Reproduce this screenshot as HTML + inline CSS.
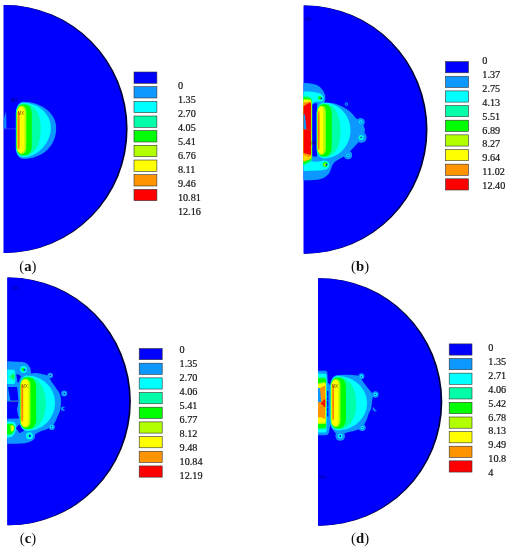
<!DOCTYPE html>
<html lang="en"><head><meta charset="utf-8"><title>Figure</title>
<style>
html,body{margin:0;padding:0;background:#fff;}
body{width:510px;height:550px;overflow:hidden;font-family:"Liberation Serif",serif;}
svg{display:block;font-family:"Liberation Serif",serif;}
</style></head><body>
<svg width="510" height="550" viewBox="0 0 510 550">
<defs><linearGradient id="og" x1="0" y1="0" x2="0" y2="1"><stop offset="0" stop-color="#FFC000"/><stop offset="0.07" stop-color="#FF8A00"/><stop offset="0.5" stop-color="#FF7800"/><stop offset="0.93" stop-color="#FF8A00"/><stop offset="1" stop-color="#FFC000"/></linearGradient><filter id="b" x="-5%" y="-5%" width="110%" height="110%"><feGaussianBlur stdDeviation="0.5"/></filter><filter id="b2" x="-2%" y="-2%" width="104%" height="104%"><feGaussianBlur stdDeviation="0.3"/></filter></defs>
<rect width="510" height="550" fill="#fff"/>
<g filter="url(#b2)"><path d="M4.0,5.099999999999994 L5.2,5.099999999999994 A122.4,123.9 0 0 1 5.2,252.9 L4.0,252.9Z" fill="#000038"/>
<path d="M3.5,5.099999999999994 A122.4,123.9 0 0 1 3.5,252.9Z" fill="#0000FF"/></g>
<g filter="url(#b)">
<path d="M23.20,101.80 C41.42,101.80 56.20,113.54 56.20,128.00 C56.20,144.94 43.66,158.80 23.20,158.80 C19.06,158.80 15.70,154.10 15.70,148.30 L15.70,113.80 C15.70,107.18 19.06,101.80 23.20,101.80Z" fill="#0C98FF"/>
<path d="M23.00,102.70 C38.40,102.70 50.90,114.03 50.90,128.00 C50.90,142.65 37.51,157.30 23.00,157.30 C19.14,157.30 16.00,152.91 16.00,147.50 L16.00,113.90 C16.00,107.72 19.14,102.70 23.00,102.70Z" fill="#00FFFF"/>
<path d="M22.75,103.50 C33.94,103.50 40.80,113.19 40.80,129.00 C40.80,145.80 33.94,156.10 22.75,156.10 C19.16,156.10 16.25,152.02 16.25,147.00 L16.25,113.90 C16.25,108.16 19.16,103.50 22.75,103.50Z" fill="#00FFA8"/>
<path d="M22.10,104.50 L25.30,104.50 A6.50,9.10 0 0 1 31.80,113.60 L31.80,146.20 A6.50,9.10 0 0 1 25.30,155.30 L22.10,155.30 A5.60,8.40 0 0 1 16.50,146.90 L16.50,113.46 A5.60,8.96 0 0 1 22.10,104.50Z" fill="#00FF00"/>
<path d="M21.40,105.80 L22.10,105.80 A4.20,5.88 0 0 1 26.30,111.68 L26.30,148.02 A4.20,5.88 0 0 1 22.10,153.90 L21.40,153.90 A4.60,6.90 0 0 1 16.80,147.00 L16.80,113.16 A4.60,7.36 0 0 1 21.40,105.80Z" fill="#B2FF00"/>
<path d="M20.70,106.70 L20.90,106.70 A3.40,4.76 0 0 1 24.30,111.46 L24.30,148.04 A3.40,4.76 0 0 1 20.90,152.80 L20.70,152.80 A3.60,5.40 0 0 1 17.10,147.40 L17.10,112.46 A3.60,5.76 0 0 1 20.70,106.70Z" fill="#FFFF00"/>
<rect x="17.6" y="111" width="2.00" height="38.50" rx="1.00" fill="url(#og)"/>
<path d="M3.5,128.6 L3.5,120 L5.6,112.4 L6.1,112.4 L6.6,128.6Z" fill="#0C98FF" opacity="0.85"/>
<path d="M3.5,128.9 L15.9,128.9" stroke="#5070e0" stroke-width="0.5"/>
<text x="10.9" y="101.7" font-size="5.2" textLength="6.2" lengthAdjust="spacingAndGlyphs" font-family="Liberation Sans, sans-serif" fill="#00004a" opacity="0.75">MN</text>
<text x="17.8" y="115.3" font-size="5.2" textLength="6.2" lengthAdjust="spacingAndGlyphs" font-family="Liberation Sans, sans-serif" fill="#5a1a00" opacity="0.8">MX</text>
</g>
<rect x="134.0" y="72.00" width="22.9" height="11.3" fill="#0000FF" stroke="#333" stroke-width="0.6"/>
<rect x="134.0" y="86.67" width="22.9" height="11.3" fill="#0C98FF" stroke="#333" stroke-width="0.6"/>
<rect x="134.0" y="101.34" width="22.9" height="11.3" fill="#00FFFF" stroke="#333" stroke-width="0.6"/>
<rect x="134.0" y="116.01" width="22.9" height="11.3" fill="#00FFA8" stroke="#333" stroke-width="0.6"/>
<rect x="134.0" y="130.68" width="22.9" height="11.3" fill="#00FF00" stroke="#333" stroke-width="0.6"/>
<rect x="134.0" y="145.35" width="22.9" height="11.3" fill="#B2FF00" stroke="#333" stroke-width="0.6"/>
<rect x="134.0" y="160.02" width="22.9" height="11.3" fill="#FFFF00" stroke="#333" stroke-width="0.6"/>
<rect x="134.0" y="174.69" width="22.9" height="11.3" fill="#FF9400" stroke="#333" stroke-width="0.6"/>
<rect x="134.0" y="189.36" width="22.9" height="11.3" fill="#FF0000" stroke="#333" stroke-width="0.6"/>
<g font-size="10.2" fill="#111" stroke="#111" stroke-width="0.2">
<text x="177.9" y="89.10">0</text>
<text x="177.9" y="103.08">1.35</text>
<text x="177.9" y="117.06">2.70</text>
<text x="177.9" y="131.04">4.05</text>
<text x="177.9" y="145.02">5.41</text>
<text x="177.9" y="159.00">6.76</text>
<text x="177.9" y="172.98">8.11</text>
<text x="177.9" y="186.96">9.46</text>
<text x="177.9" y="200.94">10.81</text>
<text x="177.9" y="214.92">12.16</text>
</g>
<g filter="url(#b2)"><path d="M304.0,5.6000000000000085 L305.2,5.6000000000000085 A122.3,124.05 0 0 1 305.2,253.7 L304.0,253.7Z" fill="#000038"/>
<path d="M303.5,5.6000000000000085 A122.3,124.05 0 0 1 303.5,253.7Z" fill="#0000FF"/></g>
<g filter="url(#b)">
<path d="M303.5,83 C310,83 316.8,84 320.5,87.5 C323.8,90.5 325.6,94.5 325.3,98.5 C325.2,100.5 324.5,102 323.6,103 C329,102.3 334,103 338.7,105 C344,107 348.5,110 351.5,113 C353.3,115 355,117.3 357,119 C361,121.5 364.9,126 364.9,130 C364.9,135 360,141 354.5,146.5 C351,150 347,155.5 340.5,158.3 C336.5,160.5 333.5,162.5 332,166 C331,168.5 330.5,171 329,173.5 C326.5,177 322,179 317.5,179.8 C312,180.4 308,180.4 303.5,180.4Z" fill="#0C98FF"/>
<circle cx="360.6" cy="122.2" r="4.2" fill="#0C98FF"/>
<circle cx="361.2" cy="137.4" r="5.4" fill="#0C98FF"/>
<circle cx="348" cy="155.2" r="4.1" fill="#0C98FF"/>
<path d="M303.5,91.5 C309,91.3 316,91.8 320,93.6 C323.2,95 324.3,97.5 323.6,99.6 C322.8,101.6 320.5,102.3 318.5,101.6 C316.5,101 313.4,101.6 312.3,103.6 L312.3,157 L303.5,157Z" fill="#00FFFF"/>
<path d="M303.5,160 L312.3,161.6 C316,161.8 319.5,161.6 321.5,161 C324,159.8 327.5,160.3 329,162.8 C330.3,165.2 329,168.6 326,169.6 C322,170.6 314,171 303.5,171Z" fill="#00FFFF"/>
<path d="M303.5,95 L310.4,96.8 Q311.95,97.5 311.95,99.5 L311.95,158.5 Q311.95,161 310.4,161.8 L303.5,166Z" fill="#00FFA8"/>
<path d="M303.5,96.8 L310.3,98.4 Q311.7,99 311.7,101 L311.7,157.5 Q311.7,160 310.3,160.8 L303.5,164.5Z" fill="#00FF00"/>
<path d="M303.5,99 L310.2,99.6 Q311.5,100 311.5,102 L311.5,156.8 Q311.5,158.6 310.2,159.2 L303.5,162Z" fill="#B2FF00"/>
<path d="M303.5,100.3 L310.1,100.6 Q311.3,101 311.3,102.6 L311.3,156.2 Q311.3,157.6 310.1,158 L303.5,160.5Z" fill="#FFFF00"/>
<path d="M303.5,102.6 L310,101.6 Q311.1,101.8 311.1,103 L311.1,155.6 Q311.1,156.6 310,156.8 L303.5,158.5Z" fill="#FF9400"/>
<path d="M303.5,106.2 L308,103.6 L310.9,102.8 L310.9,155 L309.5,154.6 L303.5,153Z" fill="#FF0000"/>
<path d="M303.5,153.5 L311,158.8 L303.5,161.5Z" fill="#FF9400"/>
<path d="M303.5,155 C306,155.5 308.5,157 310,158.8 L303.5,161Z" fill="#FFFF00" opacity="0.7"/>
<path d="M303.5,114.5 L305,114.5 L306.4,129.2 L303.5,129.2Z" fill="#0C98FF"/>
<path d="M303.5,129.6 L316.5,129.6" stroke="#c06040" stroke-width="0.4"/>
<path d="M312.3,104.8 Q314.6,102.4 316.9,103.6 L316.9,156.6 L312.3,156.6Z" fill="#0000FF"/>
<path d="M323.60,102.50 C338.45,102.50 350.50,115.04 350.50,130.50 C350.50,145.90 338.45,158.40 323.60,158.40 C319.74,158.40 316.60,154.01 316.60,148.60 L316.60,113.70 C316.60,107.52 319.74,102.50 323.60,102.50Z" fill="#00FFFF"/>
<path d="M323.35,103.30 C333.98,103.30 340.50,114.02 340.50,131.50 C340.50,147.43 333.98,157.20 323.35,157.20 C319.76,157.20 316.85,153.12 316.85,148.10 L316.85,113.70 C316.85,107.96 319.76,103.30 323.35,103.30Z" fill="#00FFA8"/>
<path d="M322.70,104.30 L325.20,104.30 A6.50,9.10 0 0 1 331.70,113.40 L331.70,147.30 A6.50,9.10 0 0 1 325.20,156.40 L322.70,156.40 A5.60,8.40 0 0 1 317.10,148.00 L317.10,113.26 A5.60,8.96 0 0 1 322.70,104.30Z" fill="#00FF00"/>
<path d="M322.00,105.60 L321.70,105.60 A4.10,5.73 0 0 1 325.80,111.33 L325.80,149.27 A4.10,5.73 0 0 1 321.70,155.00 L322.00,155.00 A4.60,6.90 0 0 1 317.40,148.10 L317.40,112.96 A4.60,7.36 0 0 1 322.00,105.60Z" fill="#B2FF00"/>
<path d="M321.30,106.50 L320.27,106.50 A2.93,4.09 0 0 1 323.20,110.59 L323.20,149.81 A2.93,4.09 0 0 1 320.27,153.90 L321.30,153.90 A3.60,5.40 0 0 1 317.70,148.50 L317.70,112.26 A3.60,5.76 0 0 1 321.30,106.50Z" fill="#FFFF00"/>
<rect x="317.9" y="111" width="1.70" height="39.00" rx="0.85" fill="url(#og)"/>
<circle cx="319.9" cy="98" r="2.3" fill="#00FFA8"/><circle cx="319.7" cy="97.9" r="1.6" fill="#00FF00"/><circle cx="321.4" cy="98.4" r="0.85" fill="#0000FF"/>
<circle cx="360.7" cy="122.1" r="1.75" fill="#00FFFF"/><circle cx="360.7" cy="122.1" r="0.65" fill="#0000FF"/>
<circle cx="361" cy="137.4" r="2.5" fill="#00FFFF"/><circle cx="360.9" cy="137.4" r="1.6" fill="#00FFA8"/><circle cx="361.2" cy="137.5" r="0.75" fill="#0000FF"/>
<circle cx="348" cy="155.2" r="1.6" fill="#00FFFF"/><circle cx="348" cy="155.2" r="0.7" fill="#0000FF"/>
<circle cx="325.3" cy="164.5" r="3.0" fill="#00FFA8"/><circle cx="325.2" cy="164.5" r="2.3" fill="#00FF00"/><circle cx="324.8" cy="164.6" r="1.3" fill="#B2FF00"/><circle cx="326.4" cy="164.6" r="0.85" fill="#0000FF"/>
<circle cx="346.4" cy="104.1" r="1.8" fill="#0C98FF"/><circle cx="346.4" cy="104.1" r="0.8" fill="#0000FF"/>
<text x="305.0" y="21.1" font-size="5.2" textLength="6.2" lengthAdjust="spacingAndGlyphs" font-family="Liberation Sans, sans-serif" fill="#00004a" opacity="0.6">MN</text>
<text x="310.3" y="145.2" font-size="5.2" textLength="6.2" lengthAdjust="spacingAndGlyphs" font-family="Liberation Sans, sans-serif" fill="#401000" opacity="0.7">MX</text>
</g>
<rect x="445.5" y="61.60" width="23.0" height="11.2" fill="#0000FF" stroke="#333" stroke-width="0.6"/>
<rect x="445.5" y="76.25" width="23.0" height="11.2" fill="#0C98FF" stroke="#333" stroke-width="0.6"/>
<rect x="445.5" y="90.90" width="23.0" height="11.2" fill="#00FFFF" stroke="#333" stroke-width="0.6"/>
<rect x="445.5" y="105.55" width="23.0" height="11.2" fill="#00FFA8" stroke="#333" stroke-width="0.6"/>
<rect x="445.5" y="120.20" width="23.0" height="11.2" fill="#00FF00" stroke="#333" stroke-width="0.6"/>
<rect x="445.5" y="134.85" width="23.0" height="11.2" fill="#B2FF00" stroke="#333" stroke-width="0.6"/>
<rect x="445.5" y="149.50" width="23.0" height="11.2" fill="#FFFF00" stroke="#333" stroke-width="0.6"/>
<rect x="445.5" y="164.15" width="23.0" height="11.2" fill="#FF9400" stroke="#333" stroke-width="0.6"/>
<rect x="445.5" y="178.80" width="23.0" height="11.2" fill="#FF0000" stroke="#333" stroke-width="0.6"/>
<g font-size="10.2" fill="#111" stroke="#111" stroke-width="0.2">
<text x="482.3" y="63.70">0</text>
<text x="482.3" y="77.66">1.37</text>
<text x="482.3" y="91.62">2.75</text>
<text x="482.3" y="105.58">4.13</text>
<text x="482.3" y="119.54">5.51</text>
<text x="482.3" y="133.50">6.89</text>
<text x="482.3" y="147.46">8.27</text>
<text x="482.3" y="161.42">9.64</text>
<text x="482.3" y="175.38">11.02</text>
<text x="482.3" y="189.34">12.40</text>
</g>
<g filter="url(#b2)"><path d="M7.7,277.5 L8.9,277.5 A122.0,123.9 0 0 1 8.9,525.3 L7.7,525.3Z" fill="#000038"/>
<path d="M7.2,277.5 A122.0,123.9 0 0 1 7.2,525.3Z" fill="#0000FF"/></g>
<g filter="url(#b)">
<path d="M7.2,361.2 L22.6,362 C26,362.3 28.6,364.5 30,367.5 C30.8,369.5 31,371.5 30.8,373.6 C33,373 35.5,372.9 37.7,373.2 C41,373.6 44.5,374.4 47.3,375.6 C49.4,377.6 50.8,380.6 52,382.6 C53.4,384.5 55.2,387 56.2,388.4 C57,389.4 57.8,390.4 58.3,391.2 C59.8,393.2 61,396.5 61,399.6 C61,402.5 60.9,405.5 60.6,408.3 C60,411.5 58.6,414.3 57.2,417 C56.5,419.8 55,422.3 53.5,424.7 C50.5,427.8 47,429.3 43.7,430.2 C40.5,431.2 37.5,432.6 35,434.6 C34,436.5 33.5,438.3 32.8,440 C30,442.5 26,443.2 21.8,443.4 C17,443.7 12,443.8 7.2,443.8Z" fill="#0C98FF"/>
<circle cx="50.2" cy="375.5" r="2.8" fill="#0C98FF"/>
<circle cx="64.2" cy="393.5" r="3.0" fill="#0C98FF"/>
<circle cx="51.8" cy="427" r="3.1" fill="#0C98FF"/>
<circle cx="29.5" cy="435.8" r="5.6" fill="#0C98FF"/>
<circle cx="24" cy="369" r="4.6" fill="#0C98FF"/>
<circle cx="63.2" cy="408.7" r="2.3" fill="#0C98FF"/>
<circle cx="64.3" cy="408.7" r="1.15" fill="#0000FF"/>
<rect x="64.3" y="407.8" width="2" height="1.8" fill="#0000FF"/>
<path d="M16.2,374.2 L18.6,374.6 L21.2,376.6 C19.8,378 19.2,380 19.2,382.2 L17.6,382.2 Z" fill="#0000FF"/>
<path d="M8.0,387 L17.1,387 L18.4,400.6 L10.3,400.6Z" fill="#0000FF"/>
<path d="M7.2,401.6 L18.5,401.6 L17.0,409 L17.9,414.5 L19.3,418.5 L7.2,418.7Z" fill="#0000FF"/>
<path d="M10.2,401.6 L19.4,401.6" stroke="#b06a40" stroke-width="0.4"/>
<path d="M15.8,428 L19.4,424.2 L24.4,430.4 L19.8,433.2 Z" fill="#0000FF"/>
<path d="M7.2,369.6 L13.4,369.8 Q15.2,370.2 15.2,372 L15.2,382 Q15.2,383.8 13.6,383.9 L7.2,383.9Z" fill="#00FFFF"/>
<path d="M8.4,376.4 L14.6,372 L14.6,381.4Z" fill="#00FFA8"/>
<path d="M10.6,376.5 L14.2,374 L14.2,379.4Z" fill="#00FF00" opacity="0.6"/>
<path d="M7.2,421.4 L13.5,421.8 C15.6,423 16.6,425.5 16.2,428 C15.8,431.5 14.5,434.5 12,436.6 L7.2,438Z" fill="#00FFFF"/>
<path d="M7.2,423 L12.6,423.2 C14.8,424.5 15.6,426.5 15.2,428.6 C14.8,431.4 13.5,433.6 11.5,435 L7.2,436Z" fill="#00FFA8"/>
<path d="M7.2,424 L12,424 C14.2,425 15,426.8 14.6,428.6 C14.2,431 13,432.8 11.2,434 L7.2,434.6Z" fill="#00FF00"/>
<path d="M10.5,425.2 C13,424.6 14.4,426.4 14.2,428.2 C14,430.2 12.8,431.6 11.4,432 C10.6,430 10.2,427.6 10.5,425.2Z" fill="#B2FF00"/>
<path d="M11.6,426 C13,425.6 13.8,427 13.6,428.2 C13.4,429.6 12.8,430.6 12,431 C11.6,429.4 11.4,427.6 11.6,426Z" fill="#FFFF00"/>
<path d="M26.80,375.60 C42.37,375.60 55.00,387.88 55.00,403.00 C55.00,418.40 42.37,430.90 26.80,430.90 C22.94,430.90 19.80,426.51 19.80,421.10 L19.80,386.80 C19.80,380.62 22.94,375.60 26.80,375.60Z" fill="#00FFFF"/>
<path d="M26.55,376.40 C38.48,376.40 45.80,386.89 45.80,404.00 C45.80,419.93 38.48,429.70 26.55,429.70 C22.96,429.70 20.05,425.62 20.05,420.60 L20.05,386.80 C20.05,381.06 22.96,376.40 26.55,376.40Z" fill="#00FFA8"/>
<path d="M25.90,377.40 L29.60,377.40 A6.50,9.10 0 0 1 36.10,386.50 L36.10,419.80 A6.50,9.10 0 0 1 29.60,428.90 L25.90,428.90 A5.60,8.40 0 0 1 20.30,420.50 L20.30,386.36 A5.60,8.96 0 0 1 25.90,377.40Z" fill="#00FF00"/>
<path d="M25.20,378.70 L26.20,378.70 A4.20,5.88 0 0 1 30.40,384.58 L30.40,421.62 A4.20,5.88 0 0 1 26.20,427.50 L25.20,427.50 A4.60,6.90 0 0 1 20.60,420.60 L20.60,386.06 A4.60,7.36 0 0 1 25.20,378.70Z" fill="#B2FF00"/>
<path d="M24.50,379.60 L25.00,379.60 A3.40,4.76 0 0 1 28.40,384.36 L28.40,421.64 A3.40,4.76 0 0 1 25.00,426.40 L24.50,426.40 A3.60,5.40 0 0 1 20.90,421.00 L20.90,385.36 A3.60,5.76 0 0 1 24.50,379.60Z" fill="#FFFF00"/>
<rect x="21.3" y="384" width="1.90" height="38.00" rx="0.95" fill="url(#og)"/>
<circle cx="23.5" cy="369.5" r="3.4" fill="#00FFFF"/><circle cx="23.3" cy="369.5" r="2.2" fill="#00FFA8"/><circle cx="23.2" cy="369.5" r="1.5" fill="#00FF00"/><circle cx="24.6" cy="369.8" r="0.9" fill="#0000FF"/>
<circle cx="50.2" cy="375.5" r="1.4" fill="#38C4FF"/><circle cx="50.2" cy="375.5" r="0.65" fill="#0000FF"/>
<circle cx="64.4" cy="393.5" r="1.4" fill="#38C4FF"/><circle cx="64.4" cy="393.5" r="0.7" fill="#0000FF"/>
<circle cx="51.6" cy="426.8" r="1.8" fill="#00FFFF"/><circle cx="51.6" cy="426.8" r="0.7" fill="#0000FF"/>
<circle cx="29.4" cy="435.8" r="3.5" fill="#00FFFF"/><circle cx="29.3" cy="435.8" r="2.2" fill="#00FFA8" opacity="0.7"/><circle cx="29.9" cy="435.9" r="1.05" fill="#0000FF"/>
<text x="12.5" y="289.7" font-size="5.2" textLength="6.2" lengthAdjust="spacingAndGlyphs" font-family="Liberation Sans, sans-serif" fill="#00004a" opacity="0.6">MN</text>
<text x="21.6" y="387.6" font-size="5.2" textLength="6.2" lengthAdjust="spacingAndGlyphs" font-family="Liberation Sans, sans-serif" fill="#5a1a00" opacity="0.8">MX</text>
</g>
<rect x="139.2" y="348.50" width="23.0" height="11.2" fill="#0000FF" stroke="#333" stroke-width="0.6"/>
<rect x="139.2" y="363.18" width="23.0" height="11.2" fill="#0C98FF" stroke="#333" stroke-width="0.6"/>
<rect x="139.2" y="377.86" width="23.0" height="11.2" fill="#00FFFF" stroke="#333" stroke-width="0.6"/>
<rect x="139.2" y="392.54" width="23.0" height="11.2" fill="#00FFA8" stroke="#333" stroke-width="0.6"/>
<rect x="139.2" y="407.22" width="23.0" height="11.2" fill="#00FF00" stroke="#333" stroke-width="0.6"/>
<rect x="139.2" y="421.90" width="23.0" height="11.2" fill="#B2FF00" stroke="#333" stroke-width="0.6"/>
<rect x="139.2" y="436.58" width="23.0" height="11.2" fill="#FFFF00" stroke="#333" stroke-width="0.6"/>
<rect x="139.2" y="451.26" width="23.0" height="11.2" fill="#FF9400" stroke="#333" stroke-width="0.6"/>
<rect x="139.2" y="465.94" width="23.0" height="11.2" fill="#FF0000" stroke="#333" stroke-width="0.6"/>
<g font-size="10.2" fill="#111" stroke="#111" stroke-width="0.2">
<text x="179.6" y="352.70">0</text>
<text x="179.6" y="366.69">1.35</text>
<text x="179.6" y="380.68">2.70</text>
<text x="179.6" y="394.67">4.06</text>
<text x="179.6" y="408.66">5.41</text>
<text x="179.6" y="422.65">6.77</text>
<text x="179.6" y="436.64">8.12</text>
<text x="179.6" y="450.63">9.48</text>
<text x="179.6" y="464.62">10.84</text>
<text x="179.6" y="478.61">12.19</text>
</g>
<g filter="url(#b2)"><path d="M318.5,278.2 L319.7,278.2 A122.6,123.75 0 0 1 319.7,525.7 L318.5,525.7Z" fill="#000038"/>
<path d="M318.0,278.2 A122.6,123.75 0 0 1 318.0,525.7Z" fill="#0000FF"/></g>
<g filter="url(#b)">
<path d="M330.2,388 C330.2,382 331.5,377.5 335,375.7 C337,374.9 338.5,374.9 340,374.9 C346,374.5 352,374.4 357.5,375.6 C360.6,377.6 361.6,379.6 362.4,380.8 C363.6,382.5 364.7,384 365.9,385.5 C367.2,387.2 368.6,389 370,390.8 C371.3,392.2 372.3,393.3 373.2,394.5 C373.2,396.6 372.4,398.5 372.1,400.5 C371.9,403 371.7,406 371.2,408.5 C370.6,410.5 369.6,411.8 368.9,412.8 C368,416 367.3,418.5 366.2,421 C364.5,424.5 362,427 359,429.3 C355,431 351,431.6 347,432.6 C344,433.6 342,434.6 340,435.6 C337,435.4 335.5,433.4 334.6,432 C332.5,430 331,427.5 330.2,424.8Z" fill="#0C98FF"/>
<circle cx="361.4" cy="376.3" r="3.0" fill="#0C98FF"/>
<circle cx="375.4" cy="394.5" r="3.2" fill="#0C98FF"/>
<circle cx="362.2" cy="427.6" r="3.5" fill="#0C98FF"/>
<circle cx="340.2" cy="436" r="4.8" fill="#0C98FF"/>
<path d="M373.6,407.6 C374,409.4 375,410.4 376.4,410.6 C375,411.4 373.2,410.6 372.9,409 Z" fill="#0C98FF" stroke="#0C98FF" stroke-width="0.8"/>
<path d="M318.0,370.8 L325.5,370.8 Q327.3,371 327.4,373 L327.8,382.5 L330.3,385.5 L330.3,425 L329.2,431 Q328.8,435.2 325.5,435.3 L318.0,435.3Z" fill="#0C98FF"/>
<path d="M318.0,373.8 L324.8,373.8 Q326.6,374 326.6,375.8 L326.6,430.6 Q326.6,432.5 324.8,432.6 L318.0,432.6Z" fill="#00FFFF"/>
<path d="M318.0,376.8 L324.7,377 Q326.3,377.3 326.3,379 L326.3,427.6 Q326.3,429.2 324.7,429.4 L318.0,429.6Z" fill="#00FFA8"/>
<path d="M318.0,378.2 L324.6,378.6 Q326.0,378.9 326.0,380.4 L326.0,426.4 Q326.0,427.8 324.6,428.1 L318.0,428.6Z" fill="#00FF00"/>
<path d="M318.0,383.2 L324.5,382 Q325.8,382.2 325.8,383.6 L325.8,422.4 Q325.8,423.8 324.5,424 L318.0,424Z" fill="#B2FF00"/>
<path d="M318.0,384.8 L324.4,383.2 Q325.6,383.4 325.6,384.6 L325.6,421.2 Q325.6,422.4 324.4,422.6 L318.0,422.8Z" fill="#FFFF00"/>
<path d="M318.0,389.2 L322,386.9 L325.2,385.6 L325.2,418.6 L323.4,418.8 C322,417.2 320,416.9 318.0,417.8Z" fill="#FF9400"/>
<path d="M318.0,388 L320,388 L321.2,402 L318.0,402Z" fill="#0C98FF"/>
<path d="M320.8,403.2 L325.2,398.8 L325.2,407.6Z" fill="#FF0000"/>
<path d="M318.0,402.4 L331,402.4" stroke="#c07a30" stroke-width="0.4"/>
<path d="M327.8,391 L327.8,416.5" stroke="#0000FF" stroke-width="1.2" stroke-dasharray="5 0.7 3.5 0.6 6 0.8 4 0.7"/>
<path d="M337.40,375.90 C353.74,375.90 367.00,388.04 367.00,403.00 C367.00,418.12 353.74,430.40 337.40,430.40 C333.54,430.40 330.40,426.01 330.40,420.60 L330.40,387.10 C330.40,380.92 333.54,375.90 337.40,375.90Z" fill="#00FFFF"/>
<path d="M337.15,376.70 C348.96,376.70 356.20,387.07 356.20,404.00 C356.20,419.62 348.96,429.20 337.15,429.20 C333.56,429.20 330.65,425.12 330.65,420.10 L330.65,387.10 C330.65,381.36 333.56,376.70 337.15,376.70Z" fill="#00FFA8"/>
<path d="M336.50,377.70 L339.40,377.70 A6.50,9.10 0 0 1 345.90,386.80 L345.90,419.30 A6.50,9.10 0 0 1 339.40,428.40 L336.50,428.40 A5.60,8.40 0 0 1 330.90,420.00 L330.90,386.66 A5.60,8.96 0 0 1 336.50,377.70Z" fill="#00FF00"/>
<path d="M335.80,379.00 L336.20,379.00 A4.20,5.88 0 0 1 340.40,384.88 L340.40,421.12 A4.20,5.88 0 0 1 336.20,427.00 L335.80,427.00 A4.60,6.90 0 0 1 331.20,420.10 L331.20,386.36 A4.60,7.36 0 0 1 335.80,379.00Z" fill="#B2FF00"/>
<path d="M335.10,379.90 L335.00,379.90 A3.40,4.76 0 0 1 338.40,384.66 L338.40,421.14 A3.40,4.76 0 0 1 335.00,425.90 L335.10,425.90 A3.60,5.40 0 0 1 331.50,420.50 L331.50,385.66 A3.60,5.76 0 0 1 335.10,379.90Z" fill="#FFFF00"/>
<rect x="332.2" y="384" width="1.80" height="36.50" rx="0.90" fill="url(#og)"/>
<circle cx="361.4" cy="376.3" r="1.5" fill="#00FFFF"/><circle cx="361.4" cy="376.3" r="0.65" fill="#0000FF"/>
<circle cx="375.5" cy="394.4" r="1.6" fill="#00FFFF"/><circle cx="375.5" cy="394.4" r="0.65" fill="#0000FF"/>
<circle cx="362.2" cy="427.6" r="1.6" fill="#00FFFF"/><circle cx="362.2" cy="427.6" r="0.6" fill="#0000FF"/>
<circle cx="340.2" cy="436" r="2.3" fill="#00FFFF"/><circle cx="340.2" cy="436" r="0.9" fill="#0000FF"/>
<text x="319.1" y="479.4" font-size="5.2" textLength="6.2" lengthAdjust="spacingAndGlyphs" font-family="Liberation Sans, sans-serif" fill="#00004a" opacity="0.6">MN</text>
<text x="331.9" y="388.1" font-size="5.2" textLength="6.2" lengthAdjust="spacingAndGlyphs" font-family="Liberation Sans, sans-serif" fill="#5a1a00" opacity="0.8">MX</text>
</g>
<rect x="449.2" y="343.90" width="22.8" height="11.2" fill="#0000FF" stroke="#333" stroke-width="0.6"/>
<rect x="449.2" y="358.52" width="22.8" height="11.2" fill="#0C98FF" stroke="#333" stroke-width="0.6"/>
<rect x="449.2" y="373.14" width="22.8" height="11.2" fill="#00FFFF" stroke="#333" stroke-width="0.6"/>
<rect x="449.2" y="387.76" width="22.8" height="11.2" fill="#00FFA8" stroke="#333" stroke-width="0.6"/>
<rect x="449.2" y="402.38" width="22.8" height="11.2" fill="#00FF00" stroke="#333" stroke-width="0.6"/>
<rect x="449.2" y="417.00" width="22.8" height="11.2" fill="#B2FF00" stroke="#333" stroke-width="0.6"/>
<rect x="449.2" y="431.62" width="22.8" height="11.2" fill="#FFFF00" stroke="#333" stroke-width="0.6"/>
<rect x="449.2" y="446.24" width="22.8" height="11.2" fill="#FF9400" stroke="#333" stroke-width="0.6"/>
<rect x="449.2" y="460.86" width="22.8" height="11.2" fill="#FF0000" stroke="#333" stroke-width="0.6"/>
<g font-size="10.2" fill="#111" stroke="#111" stroke-width="0.2">
<text x="488.3" y="350.60">0</text>
<text x="488.3" y="364.58">1.35</text>
<text x="488.3" y="378.56">2.71</text>
<text x="488.3" y="392.54">4.06</text>
<text x="488.3" y="406.52">5.42</text>
<text x="488.3" y="420.50">6.78</text>
<text x="488.3" y="434.48">8.13</text>
<text x="488.3" y="448.46">9.49</text>
<text x="488.3" y="462.44">10.8</text>
<text x="488.3" y="476.42">4</text>
</g>

<g font-size="14.7" fill="#111">
<text x="19.3" y="270.6">(<tspan font-weight="bold">a</tspan>)</text>
<text x="351.1" y="270.6">(<tspan font-weight="bold">b</tspan>)</text>
<text x="19.8" y="542.6">(<tspan font-weight="bold">c</tspan>)</text>
<text x="351.1" y="542.5">(<tspan font-weight="bold">d</tspan>)</text>
</g>

</svg>
</body></html>
